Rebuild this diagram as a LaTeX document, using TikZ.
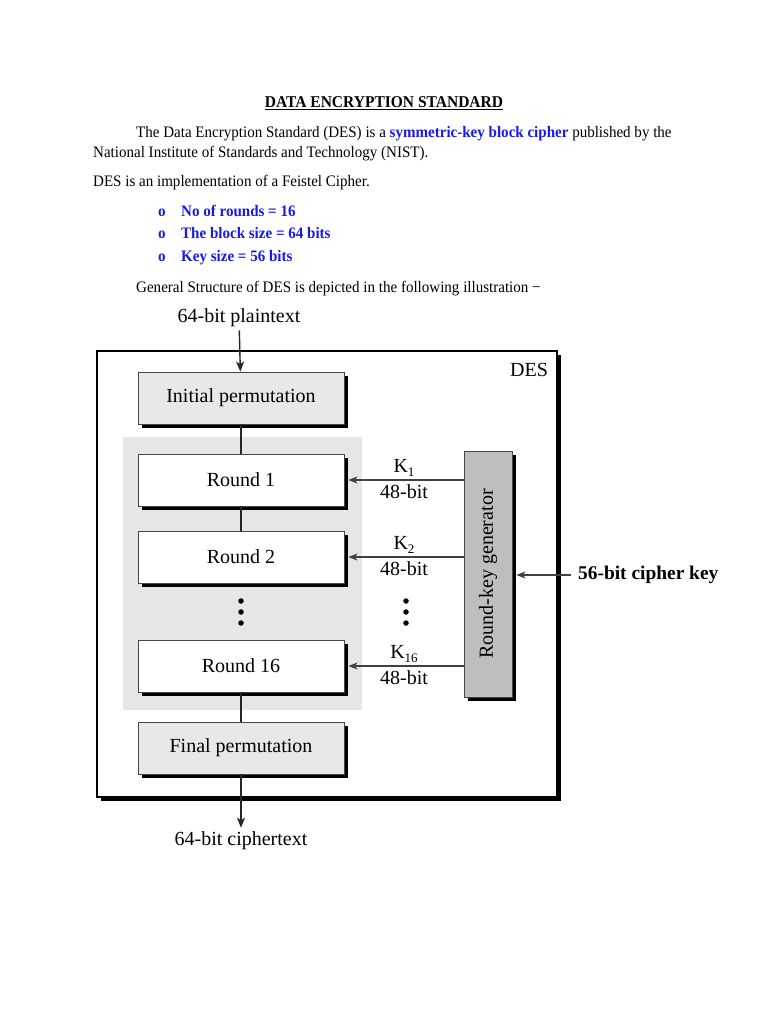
\documentclass[tikz,border=0pt]{standalone}
\usepackage{fontspec}
\setmainfont{Liberation Serif}
\newfontfamily\bodyfont[FakeStretch=0.94]{Liberation Serif}
\usetikzlibrary{shadows,arrows.meta}
\definecolor{bluetxt}{RGB}{25,25,235}
\definecolor{panel}{RGB}{230,230,230}
\definecolor{permfill}{RGB}{232,232,232}
\definecolor{genfill}{RGB}{190,190,190}
\definecolor{edge}{RGB}{70,70,70}
\newcommand{\subk}[1]{\raisebox{-4pt}{\fontsize{13}{13}\selectfont #1}}
\begin{document}
\begin{tikzpicture}[x=1pt,y=-1pt,
  body/.style={font=\bodyfont\fontsize{16}{19}\selectfont, anchor=base west, inner sep=0pt},
  bodyblue/.style={body, text=bluetxt, font=\bodyfont\bfseries\fontsize{16}{19}\selectfont},
  dia/.style={font=\fontsize{20}{24}\selectfont},
  shadowed/.style={drop shadow={shadow xshift=4pt, shadow yshift=-4pt, fill=black, opacity=1}},
  shbox/.style={draw=edge, line width=0.8pt, minimum width=206pt, minimum height=52pt, inner sep=0pt, dia, shadowed},
  conn/.style={draw=black!85, line width=1.4pt, -{Stealth[length=10pt,width=8pt,inset=2.5pt]}},
  link/.style={draw=black!85, line width=1.3pt},
  keyarrow/.style={draw=black!75, line width=1.2pt, -{Stealth[length=9pt,width=7pt,inset=2.5pt]}},
  dotnode/.style={circle, fill=black, minimum size=5.5pt, inner sep=0pt},
  lbl/.style={dia, inner sep=0pt}
]
\useasboundingbox (0,0) rectangle (768,1024);
\fill[white] (0,0) rectangle (768,1024);

% ---------- text part ----------
\node[font=\bodyfont\bfseries\fontsize{16.5}{20}\selectfont, anchor=base, inner sep=0pt] (title) at (384,108) {\underline{DATA ENCRYPTION STANDARD}};
\node[body] (p1) at (136,137.5) {The Data Encryption Standard (DES) is a {\bfseries\color{bluetxt}symmetric-key block cipher} published by the};
\node[body] (p2) at (93,158) {National Institute of Standards and Technology (NIST).};
\node[body] (p3) at (93,187) {DES is an implementation of a Feistel Cipher.};
\node[bodyblue] (m1) at (158,217) {o};
\node[bodyblue] (b1) at (181,217) {No of rounds = 16};
\node[bodyblue] (m2) at (158,239) {o};
\node[bodyblue] (b2) at (181,239) {The block size = 64 bits};
\node[bodyblue] (m3) at (158,261) {o};
\node[bodyblue] (b3) at (181,261) {Key size = 56 bits};
\node[body] (p4) at (136,292.5) {General Structure of DES is depicted in the following illustration \char"2212};

% ---------- diagram ----------
\node[lbl] (plain) at (239,318) {64-bit plaintext};
\node[draw=black, line width=1.2pt, fill=white, minimum width=460pt, minimum height=446pt, inner sep=0pt, shadowed] (des) at (327,574) {};
\node[lbl] (deslbl) at (529,370) {DES};
\node[fill=panel, minimum width=239pt, minimum height=273pt, inner sep=0pt] (grp) at (242.5,573.5) {};

\node[shbox, fill=permfill] (ip) at (241,398) {Initial permutation};
\node[shbox, fill=white] (r1) at (241,480) {Round 1};
\node[shbox, fill=white] (r2) at (241,557) {Round 2};
\node[shbox, fill=white] (r16) at (241,666) {Round 16};
\node[shbox, fill=permfill] (fp) at (241,748) {Final permutation};

\node[dotnode] (da1) at (241,601) {};
\node[dotnode] (da2) at (241,612) {};
\node[dotnode] (da3) at (241,623) {};

\node[draw=edge, line width=0.8pt, fill=genfill, minimum width=48pt, minimum height=246pt, inner sep=0pt, shadowed] (gen) at (488,574) {};
\node[lbl, rotate=90] (genlbl) at (gen.center) {Round-key generator};

\node[dotnode] (db1) at (406,601) {};
\node[dotnode] (db2) at (406,612) {};
\node[dotnode] (db3) at (406,623) {};

\node[lbl] (cipher) at (241,841) {64-bit ciphertext};
\node[lbl, font=\bfseries\fontsize{19.4}{22}\selectfont, anchor=west, inner sep=2pt] (key) at (576,575) {56-bit cipher key};

% connectors
\draw[conn, shorten <=3pt] (plain) -- (ip);
\draw[link] (ip) -- (r1);
\draw[link] (r1) -- (r2);
\draw[link] (r16) -- (fp);
\draw[conn, shorten >=4pt] (fp) -- (cipher);

\draw[keyarrow, shorten >=4pt] (gen.west |- r1.east) -- (r1.east)
  node[pos=0.5, above=3pt, lbl] (k1) {K\subk{1}}
  node[pos=0.5, below=4pt, lbl] (w1) {48-bit};
\draw[keyarrow, shorten >=4pt] (gen.west |- r2.east) -- (r2.east)
  node[pos=0.5, above=3pt, lbl] (k2) {K\subk{2}}
  node[pos=0.5, below=4pt, lbl] (w2) {48-bit};
\draw[keyarrow, shorten >=4pt] (gen.west |- r16.east) -- (r16.east)
  node[pos=0.5, above=3pt, lbl] (k16) {K\subk{16}}
  node[pos=0.5, below=4pt, lbl] (w16) {48-bit};

\draw[keyarrow, shorten >=4pt, shorten <=5pt] (key.west) -- (gen.east |- key.west);
\end{tikzpicture}
\end{document}
